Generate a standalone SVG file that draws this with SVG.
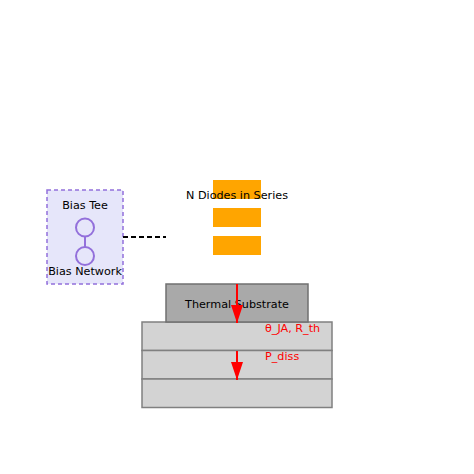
<svg xmlns="http://www.w3.org/2000/svg" width="474" height="474" viewBox="0 0 474 474">
<defs>
<style>
text{font-family:"DejaVu Sans",sans-serif;font-size:11.2px;fill:#000}
.lbl{fill:#ff0000}
.layer{fill:#d3d3d3;stroke:#808080;stroke-width:1.5}
.diode{fill:#ffa500}
.heat{stroke:#ff0000;stroke-width:2;fill:none}
.bt{fill:none;stroke:#9370db;stroke-width:2}
</style>
<marker id="ah" markerWidth="18" markerHeight="12" refX="18" refY="6" orient="auto" markerUnits="userSpaceOnUse" viewBox="0 0 18 12">
<path d="M0,0 L18,6 L0,12 z" fill="#ff0000"/>
</marker>
</defs>
<rect width="474" height="474" fill="#fff"/>
<g id="layers">
<rect class="layer" x="142" y="322" width="190" height="28.5"/>
<rect class="layer" x="142" y="350.5" width="190" height="28.5"/>
<rect class="layer" x="142" y="379" width="190" height="28.5"/>
</g>
<g id="thermal-substrate">
<rect x="166" y="284" width="142" height="38" fill="#a9a9a9" stroke="#707070" stroke-width="1.5"/>
<text x="237" y="308" text-anchor="middle">Thermal Substrate</text>
</g>
<g id="diodes">
<rect class="diode" x="213" y="180" width="48" height="19"/>
<rect class="diode" x="213" y="208" width="48" height="19"/>
<rect class="diode" x="213" y="236" width="48" height="19"/>
<text x="237" y="199" text-anchor="middle">N Diodes in Series</text>
</g>
<g id="bias-tee">
<rect x="47" y="190" width="76" height="94" fill="#e6e6fa" stroke="#9370db" stroke-width="1.5" stroke-dasharray="4,3"/>
<circle class="bt" cx="85" cy="227.5" r="9"/>
<circle class="bt" cx="85" cy="256" r="9"/>
<line class="bt" x1="85" y1="236.5" x2="85" y2="247"/>
<text x="85" y="209" text-anchor="middle">Bias Tee</text>
<text x="85" y="275" text-anchor="middle">Bias Network</text>
</g>
<g id="connectors">
<line x1="123" y1="237" x2="166" y2="237" stroke="#000" stroke-width="2" stroke-dasharray="5,3"/>
<line class="heat" x1="237" y1="284" x2="237" y2="323" marker-end="url(#ah)"/>
<line class="heat" x1="237" y1="351" x2="237" y2="380" marker-end="url(#ah)"/>
</g>
<g id="labels">
<text class="lbl" x="265" y="332">θ_JA, R_th</text>
<text class="lbl" x="265" y="360">P_diss</text>
</g>
</svg>
